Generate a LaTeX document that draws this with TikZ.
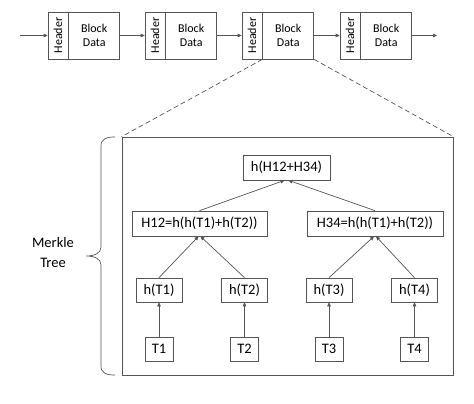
\documentclass[tikz,border=0pt]{standalone}
\usepackage{fontspec}
\setmainfont{Carlito}
\usetikzlibrary{arrows.meta}

\definecolor{linegray}{RGB}{85,85,85}

\begin{document}
\begin{tikzpicture}[x=1pt,y=-1pt,line width=0.7pt,>={Triangle[length=4pt,width=3.6pt]},
	blockhead/.style={draw=linegray,inner sep=0pt,minimum width=20pt,minimum height=47pt,font=\fontsize{12}{14}\selectfont},
	blockdata/.style={draw=linegray,inner sep=0pt,minimum width=51pt,minimum height=47pt,align=center,font=\fontsize{12}{14}\selectfont},
	hashbox/.style={draw=linegray,inner sep=0pt,minimum height=25pt,font=\fontsize{14.5}{17}\selectfont},
	link/.style={->,draw=linegray}]
	\useasboundingbox (0,0) rectangle (474,404);

	% chain of blocks
	\foreach \i/\x in {1/48,2/145,3/242,4/340} {
		\node[blockhead] (hdr\i) at (\x+10,35.5) {\rotatebox{90}{Header}};
		\node[blockdata,anchor=west] (blk\i) at (hdr\i.east) {Block\\Data};
	}
	\coordinate (in) at (20,35.5);
	\coordinate (out) at (437,35.5);
	\draw[link] (in) -- (hdr1);
	\draw[link] (blk1) -- (hdr2);
	\draw[link] (blk2) -- (hdr3);
	\draw[link] (blk3) -- (hdr4);
	\draw[link] (blk4) -- (out);

	% merkle tree
	\node[draw=linegray,minimum width=331pt,minimum height=238pt,inner sep=0pt] (tree) at (287.5,256) {};
	\draw[linegray,dash pattern=on 5pt off 3pt] (blk3.south west) -- (tree.north west);
	\draw[linegray,dash pattern=on 5pt off 3pt] (blk3.south east) -- (tree.north east);

	\node[hashbox,minimum width=87pt] (root) at (286.5,167.5) {h(H12+H34)};
	\node[hashbox,minimum width=135pt] (h12) at (199.5,223.5) {H12=h(h(T1)+h(T2))};
	\node[hashbox,minimum width=136pt] (h34) at (375,223.5) {H34=h(h(T1)+h(T2))};
	\foreach \i/\x in {1/159,2/244.5,3/329,4/414.5} {
		\node[hashbox,minimum width=46pt,minimum height=24pt] (ht\i) at (\x,290) {h(T\i)};
		\node[hashbox,minimum width=28pt,minimum height=24pt] (t\i) at (\x,349) {T\i};
		\draw[link] (t\i) -- (ht\i);
	}
	\draw[link] (h12.north) -- ([xshift=-2pt]root.south);
	\draw[link] (h34.north) -- ([xshift=2pt]root.south);
	\draw[link] (ht1.north) -- ([xshift=-1pt]h12.south);
	\draw[link] (ht2.north) -- ([xshift=1pt]h12.south);
	\draw[link] (ht3.north) -- ([xshift=-1pt]h34.south);
	\draw[link] (ht4.north) -- ([xshift=1pt]h34.south);

	% brace
	\draw[linegray] (115,137) .. controls (106,137) and (101,139) .. (101,146) -- (101,247)
		.. controls (101,253) and (95,256) .. (86,256)
		.. controls (95,256) and (101,259) .. (101,265) -- (101,366)
		.. controls (101,373) and (106,375) .. (115,375);
	\node[align=center,font=\fontsize{14.5}{20}\selectfont] (label) at (53,253) {Merkle\\Tree};
\end{tikzpicture}
\end{document}
